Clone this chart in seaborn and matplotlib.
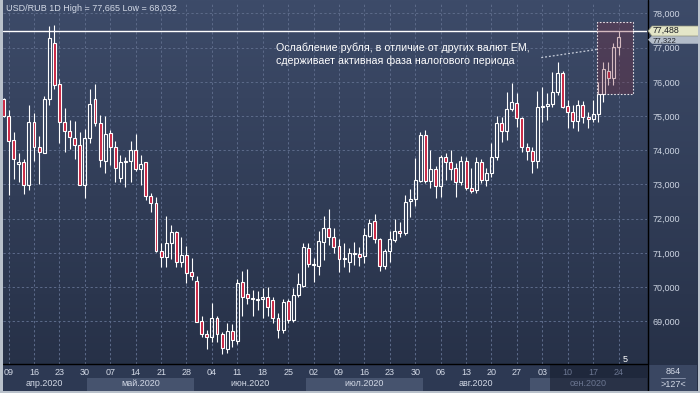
import numpy as np
import pandas as pd
import matplotlib
matplotlib.use("Agg")
import matplotlib.pyplot as plt
import matplotlib.transforms as mtransforms
from matplotlib.patches import Rectangle, Polygon
import seaborn as sns

# ---------------- data (USD/RUB daily)
dates = pd.bdate_range("2020-04-08", "2020-09-24")

opens = [75.49, 75.00, 74.29, 73.59, 73.67, 72.99, 74.82, 74.09, 73.91, 75.49,
         77.13, 75.93, 74.82, 74.56, 74.35, 74.16, 72.99, 74.35, 75.49, 74.79,
         73.70, 74.50, 74.09, 73.18, 73.67, 73.69, 74.01, 73.45, 73.65, 72.66,
         72.47, 71.04, 70.87, 71.28, 71.60, 70.72, 70.94, 70.43, 70.18, 69.01,
         68.62, 68.53, 69.09, 68.62, 68.18, 68.72, 68.43, 70.14, 69.79, 69.64,
         69.63, 69.64, 69.70, 69.62, 69.09, 68.75, 69.59, 69.04, 69.77, 70.04,
         71.13, 70.65, 70.63, 71.33, 71.74, 71.47, 71.20, 70.82, 70.74, 70.96,
         70.97, 70.91, 71.50, 71.93, 71.40, 70.63, 71.06, 71.38, 71.65, 71.57,
         72.52, 72.58, 73.11, 74.45, 73.11, 73.45, 72.96, 73.81, 73.67, 73.47,
         73.06, 73.69, 72.89, 72.84, 73.65, 73.13, 73.35, 73.80, 74.79, 74.57,
         75.20, 75.37, 74.94, 74.09, 73.98, 73.69, 75.27, 75.30, 75.34, 75.69,
         76.25, 75.30, 75.13, 74.87, 75.33, 74.98, 74.91, 75.06, 75.64, 76.33,
         76.11, 77.03]
highs = [75.52, 75.18, 74.52, 73.93, 73.75, 75.33, 75.08, 74.42, 75.60, 77.63,
         77.665, 76.09, 75.23, 74.89, 74.86, 74.52, 74.62, 75.79, 75.94, 75.03,
         75.00, 74.59, 74.27, 73.86, 73.79, 74.27, 74.48, 73.86, 73.67, 72.74,
         72.64, 71.30, 72.08, 71.82, 71.64, 71.47, 71.21, 70.84, 70.33, 69.14,
         68.75, 69.53, 69.16, 68.70, 68.94, 68.92, 70.23, 70.47, 70.53, 69.91,
         69.89, 69.96, 69.99, 69.72, 69.23, 69.64, 69.64, 69.98, 70.42, 71.30,
         71.28, 70.85, 71.64, 72.08, 72.28, 71.72, 71.40, 71.30, 71.13, 71.33,
         71.18, 71.72, 71.99, 72.14, 71.43, 71.10, 71.65, 71.99, 71.91, 72.69,
         72.87, 73.77, 74.53, 74.59, 74.01, 73.54, 73.86, 73.91, 74.01, 73.62,
         73.83, 73.81, 73.47, 73.79, 73.74, 73.47, 74.21, 75.00, 74.98, 75.69,
         75.98, 75.67, 74.98, 74.21, 74.11, 75.72, 75.86, 75.67, 76.28, 76.57,
         76.32, 75.47, 75.33, 75.47, 75.44, 75.13, 75.47, 76.01, 76.57, 76.59,
         77.13, 77.48]
lows = [74.98, 72.69, 73.15, 73.08, 72.71, 72.84, 73.70, 73.01, 73.91, 75.33,
        75.79, 74.20, 73.94, 74.03, 73.75, 72.97, 72.60, 74.20, 74.72, 73.52,
        73.33, 73.57, 73.08, 73.08, 72.94, 73.08, 73.40, 72.99, 72.55, 72.19,
        71.02, 70.60, 70.60, 70.81, 70.60, 70.60, 70.13, 70.21, 68.97, 68.55,
        68.18, 68.40, 68.38, 68.032, 68.06, 68.26, 68.34, 69.15, 69.50, 69.14,
        69.33, 69.09, 69.14, 68.94, 68.52, 68.67, 68.96, 68.97, 69.72, 69.99,
        70.60, 70.16, 70.35, 70.79, 71.22, 71.00, 70.45, 70.60, 70.45, 70.65,
        70.63, 70.70, 71.47, 71.30, 70.48, 70.53, 70.72, 71.33, 71.46, 71.52,
        72.04, 72.37, 73.08, 73.03, 72.89, 72.61, 72.64, 73.13, 73.13, 72.64,
        72.99, 72.84, 72.76, 72.74, 73.03, 72.96, 73.23, 73.72, 74.25, 74.30,
        75.16, 74.69, 73.96, 73.72, 73.33, 73.47, 74.84, 74.89, 75.28, 75.62,
        75.23, 74.64, 74.64, 74.55, 74.79, 74.64, 74.84, 74.84, 75.42, 75.91,
        75.91, 76.79]
closes = [75.00, 74.28, 73.75, 73.66, 72.99, 74.82, 74.09, 73.94, 75.49, 77.27,
          75.91, 74.82, 74.55, 74.38, 74.16, 72.99, 74.35, 75.35, 74.79, 73.72,
          74.48, 74.09, 73.47, 73.65, 73.70, 74.01, 73.44, 73.59, 72.66, 72.47,
          71.04, 70.87, 71.28, 71.60, 70.72, 70.94, 70.40, 70.33, 68.99, 68.62,
          68.55, 69.09, 68.63, 68.21, 68.72, 68.45, 70.11, 69.72, 69.67, 69.67,
          69.65, 69.72, 69.43, 69.09, 68.75, 69.57, 69.04, 69.77, 70.09, 71.16,
          70.67, 70.68, 71.35, 71.72, 71.46, 71.18, 70.81, 70.84, 71.00, 71.00,
          70.89, 71.52, 71.86, 71.40, 70.63, 71.04, 71.40, 71.65, 71.57, 72.50,
          72.58, 73.13, 74.45, 73.11, 73.45, 72.96, 73.81, 73.67, 73.44, 73.06,
          73.69, 72.89, 72.82, 73.65, 73.13, 73.35, 73.80, 74.79, 74.55, 75.20,
          75.42, 74.94, 74.09, 73.98, 73.69, 75.28, 75.30, 75.34, 75.69, 76.25,
          75.28, 75.13, 74.87, 75.33, 74.98, 74.92, 75.06, 75.65, 76.37, 76.12,
          77.03, 77.32]

price_ticks = [69, 70, 71, 72, 73, 74, 75, 76, 77, 78]
month_names = ["апр.2020", "май.2020", "июн.2020", "июл.2020", "авг.2020", "сен.2020"]
title_text = "USD/RUB 1D High = 77,665 Low = 68,032"
note_lines = ["Ослабление рубля, в отличие от других валют ЕМ,",
              "сдерживает активная фаза налогового периода"]
level_price = 77.488
last_price = 77.322
bars_visible = 127
info_top, info_bottom = "864", ">127<"
# highlighted zone (bar index / price)
zone_x = (116.8, 123.9)
zone_y = (75.64, 77.76)

# ---------------- style
sns.set_theme(style="dark")
plt.rcParams['font.family'] = ['Liberation Sans', 'DejaVu Sans']

W, H = 700, 393
def fx(px):
    return px / W
def fy(py):
    return 1 - py / H

BG_TOP = np.array([61, 75, 105]) / 255
BG_BOT = np.array([37, 47, 69]) / 255
TXT = '#d3d9e6'
DIM = '#6a7590'
RED = '#c8213f'

fig = plt.figure(figsize=(7, 3.93), dpi=100)

# gradient background for the whole terminal window
bg = fig.add_axes([0, 0, 1, 1], zorder=-10)
t = np.linspace(0, 1, 256)[:, None]
grad = BG_TOP[None, :] * (1 - t) + BG_BOT[None, :] * t
bg.imshow(grad[:, None, :], aspect='auto', extent=[0, 1, 0, 1])
bg.set_axis_off()

ax = fig.add_axes([fx(3), fy(364), fx(644), 362 / H])
ax.patch.set_alpha(0)

x = np.arange(len(dates))
o = np.array(opens); c = np.array(closes)
hi = np.array(highs); lo = np.array(lows)
up = c >= o
top = np.maximum(o, c); bot = np.minimum(o, c)
height = np.maximum(top - bot, 0.025)

# wicks (split so hollow bodies stay hollow)
ax.vlines(x, top, hi, color='white', lw=0.8, zorder=3)
ax.vlines(x, lo, bot, color='white', lw=0.8, zorder=3)
ax.bar(x[up], height[up], bottom=bot[up], width=0.58, facecolor='none',
       edgecolor='white', linewidth=0.8, zorder=3)
ax.bar(x[~up], height[~up], bottom=bot[~up], width=0.58, facecolor=RED,
       edgecolor='white', linewidth=0.8, zorder=3)

ax.set_xlim(-0.1, 126.6)
ax.set_ylim(67.75, 78.336)

# grid on thursdays + whole rubles
thu = [i for i, d in enumerate(dates) if d.weekday() == 3]
ax.set_xticks(thu)
ax.set_xticklabels([dates[i].strftime('%d') for i in thu])
ax.set_yticks(price_ticks)
ax.set_yticklabels([f"{v:.3f}".replace('.', ',') for v in price_ticks])
ax.yaxis.tick_right()
ax.grid(True, color='#5b6988', linestyle=(0, (2.2, 2.2)), linewidth=0.75)
ax.tick_params(axis='x', length=0, pad=3, labelsize=6.5, labelcolor=TXT)
ax.tick_params(axis='y', length=0, pad=4, labelsize=6.5, labelcolor='#cdd4e2')
for s in ax.spines.values():
    s.set_visible(False)

# level line, highlight zone and comment
ax.axhline(level_price, color='white', lw=1.0, zorder=4)
ax.add_patch(Rectangle((zone_x[0], zone_y[0]), zone_x[1] - zone_x[0], zone_y[1] - zone_y[0],
                       facecolor='#7a293b', alpha=0.32, edgecolor='none', zorder=5))
ax.add_patch(Rectangle((zone_x[0], zone_y[0]), zone_x[1] - zone_x[0], zone_y[1] - zone_y[0],
                       facecolor='none', edgecolor='#e6e0e6', lw=0.8,
                       linestyle=(0, (1.5, 1.5)), zorder=5))
ax.plot([105.8, zone_x[0]], [76.71, 76.95], color='#c9cfdc', lw=0.9,
        linestyle=(0, (1.5, 1.6)), zorder=4)
ax.text(53.6, 76.90, note_lines[0], color='white', fontsize=7.7, va='baseline', zorder=6)
ax.text(53.6, 76.51, note_lines[1], color='white', fontsize=7.7, va='baseline', zorder=6)

# ---------------- time-axis strip
fig.patches.append(Rectangle((fx(3), fy(391)), fx(644), 27 / H, transform=fig.transFigure,
                             facecolor='#2d3953', edgecolor='none', zorder=-5))
bt = mtransforms.blended_transform_factory(ax.transData, fig.transFigure)
months = dates.month
for k, m in enumerate(sorted(set(months))):
    idx = np.where(months == m)[0]
    x0 = idx[0] - 0.5
    x1 = idx[-1] + 0.5 if k < len(month_names) - 1 else 126.6
    if k % 2 == 1:
        fig.patches.append(Rectangle((x0, fy(391)), x1 - x0, 13.5 / H, transform=bt,
                                     facecolor='#46536e', edgecolor='none', zorder=-4))
    fig.text((x0 + x1) / 2, fy(384), month_names[k], transform=bt, ha='center', va='center',
             fontsize=6.5, color=DIM if k == len(month_names) - 1 else TXT)

# darker overlay on the last weeks of the time axis
fig.patches.append(Rectangle((107.5, fy(391)), 126.6 - 107.5, 27 / H, transform=bt,
                             facecolor='#161d2e', alpha=0.6, edgecolor='none', zorder=-3))
for lab, i in zip(ax.get_xticklabels(), thu):
    if i > 107.5:
        lab.set_color(DIM)

# frame lines
fig.add_artist(plt.Line2D([fx(3), fx(647)], [fy(364), fy(364)], color='black', lw=1.0))
fig.add_artist(plt.Line2D([fx(647.5), fx(647.5)], [fy(391), 1], color='black', lw=1.0))

# bottom-right info cell
fig.patches.append(Rectangle((fx(648), fy(391)), fx(49), 26 / H, transform=fig.transFigure,
                             facecolor='#3a4762', edgecolor='none', zorder=-4))
fig.text(fx(673), fy(371), info_top, ha='center', va='center', fontsize=6.5, color=TXT)
fig.add_artist(plt.Line2D([fx(661), fx(685)], [fy(377.5), fy(377.5)], color='#8e99b0', lw=0.6))
fig.text(fx(673), fy(384.5), info_bottom, ha='center', va='center', fontsize=6.5, color=TXT)
fig.text(fx(625.5), fy(359.5), str(bars_visible - len(dates)), ha='center', va='center',
         fontsize=6.5, color='white')

# price tags on the right scale (the last-price tag peeks out under the level tag)
tr = mtransforms.blended_transform_factory(fig.transFigure, ax.transData)
dy = 5 / 34.2
tag_lo = last_price - 0.09
fig.patches.append(Polygon([(fx(648), tag_lo), (fx(652), tag_lo + 0.8 * dy),
                            (fx(699), tag_lo + 0.8 * dy), (fx(699), tag_lo - 0.8 * dy),
                            (fx(652), tag_lo - 0.8 * dy)], closed=True, transform=tr,
                           facecolor='#b3bcc9', edgecolor='none', zorder=5))
fig.text(fx(653), tag_lo - 0.01, f"{last_price:.3f}".replace('.', ','), transform=tr,
         va='center', fontsize=5.6, color='#20242c', zorder=6)
fig.patches.append(Polygon([(fx(648), level_price), (fx(652), level_price + dy),
                            (fx(699), level_price + dy), (fx(699), level_price - dy),
                            (fx(652), level_price - dy)], closed=True, transform=tr,
                           facecolor='#e4e6c8', edgecolor='#8d8f78', lw=0.5, zorder=7))
fig.text(fx(653), level_price + 0.01, f"{level_price:.3f}".replace('.', ','), transform=tr,
         va='center', fontsize=6.3, color='#1c1f24', zorder=8)

# title
fig.text(fx(6), fy(8.3), title_text, va='center', fontsize=6.5, color=TXT)

# light window border
for rect in [(0, 0, 2.5, H), (697.5, 0, 2.5, H), (0, 391, W, 2)]:
    fig.patches.append(Rectangle((fx(rect[0]), fy(rect[1] + rect[3])), fx(rect[2]), rect[3] / H,
                                 transform=fig.transFigure, facecolor='#b9c1cb',
                                 edgecolor='none', zorder=10))

fig.savefig("out.png", dpi=100)
